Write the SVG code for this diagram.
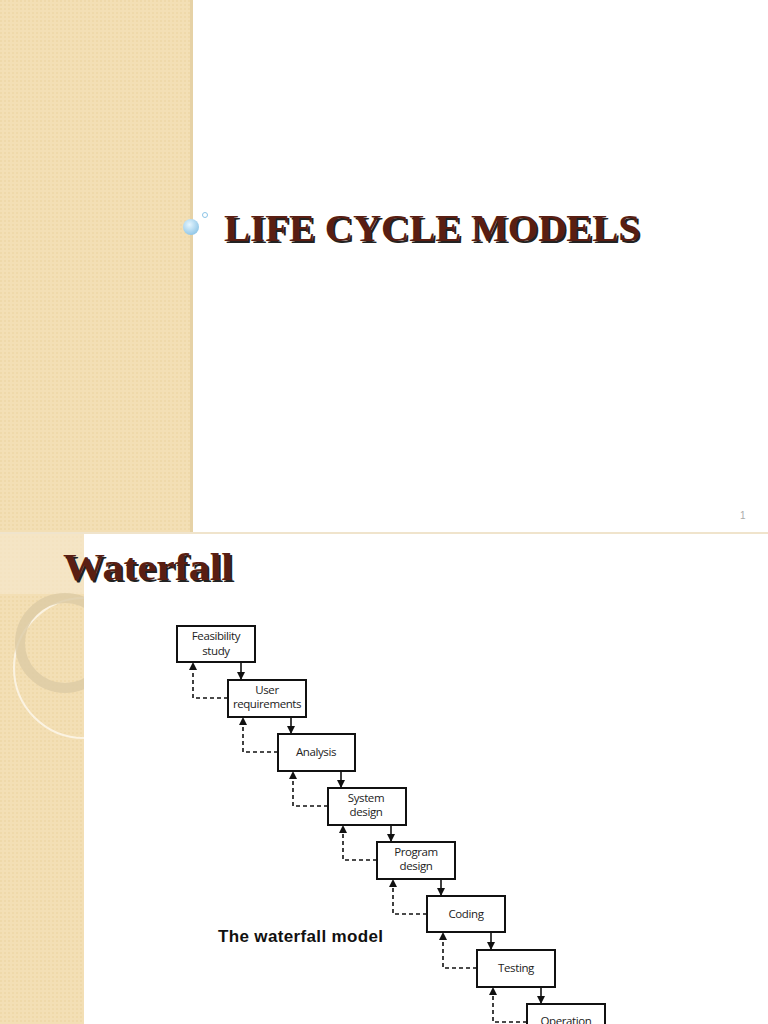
<svg xmlns="http://www.w3.org/2000/svg" width="768" height="1024" viewBox="0 0 768 1024">
<defs>
<pattern id="tex" width="4" height="4" patternUnits="userSpaceOnUse"><rect width="4" height="4" fill="#f3dfb5"/><rect width="2" height="2" fill="#efd9aa"/></pattern>
<marker id="ah" markerWidth="8" markerHeight="8" refX="7" refY="4" orient="auto" markerUnits="userSpaceOnUse"><path d="M0,0 L8,4 L0,8 z" fill="#111"/></marker>
<radialGradient id="bub" cx="0.4" cy="0.35" r="0.7"><stop offset="0" stop-color="#e6f6ff"/><stop offset="1" stop-color="#8cc4e6"/></radialGradient>
</defs>
<style>
.box{fill:#fff;stroke:#111;stroke-width:2}
.bt{font-family:"Open Sans","Liberation Sans",sans-serif;font-size:11.5px;fill:#222;text-anchor:middle;letter-spacing:-0.4px}
.ttl{font-family:"Liberation Serif",serif;font-weight:bold;fill:#5a1e12}
.sh{font-family:"Liberation Serif",serif;font-weight:bold;fill:#222}
.sol{stroke:#111;stroke-width:1.6;fill:none}
.dash{stroke:#111;stroke-width:1.6;fill:none;stroke-dasharray:4,3}
</style>
<rect width="768" height="1024" fill="#fff"/>
<rect x="0" y="0" width="190" height="532" fill="url(#tex)"/>
<rect x="190" y="0" width="3" height="532" fill="#e6d2a6"/>
<circle cx="191" cy="227" r="8" fill="url(#bub)"/>
<circle cx="205" cy="215" r="2.5" fill="none" stroke="#8cc4e6" stroke-width="1"/>
<text class="sh" x="226" y="243" font-size="38" textLength="416" lengthAdjust="spacingAndGlyphs">LIFE CYCLE MODELS</text>
<text class="ttl" x="224" y="241" font-size="38" textLength="416" lengthAdjust="spacingAndGlyphs">LIFE CYCLE MODELS</text>
<text x="740" y="519" font-family="Liberation Sans,sans-serif" font-size="10" fill="#aaa">1</text>
<rect x="0" y="532" width="768" height="2" fill="#f0e4cc"/>
<rect x="0" y="534" width="84" height="490" fill="url(#tex)"/>
<rect x="0" y="534" width="84" height="60" fill="#f7ead0" opacity="0.6"/>
<circle cx="84" cy="668" r="70" fill="none" stroke="#fbf3e2" stroke-width="2"/>
<circle cx="65" cy="643" r="45" fill="none" stroke="#dccba5" stroke-width="10" opacity="0.8"/>
<rect x="84" y="534" width="684" height="490" fill="#fff"/>
<text class="sh" x="65" y="582" font-size="38" textLength="170" lengthAdjust="spacingAndGlyphs">Waterfall</text>
<text class="ttl" x="63" y="580" font-size="38" textLength="170" lengthAdjust="spacingAndGlyphs">Waterfall</text>
<text x="218" y="942" font-family="Liberation Sans,Arial,sans-serif" font-weight="bold" font-size="17" fill="#111" textLength="165">The waterfall model</text>
<g id="connectors">
<path class="sol" d="M241,662 V679" marker-end="url(#ah)"/>
<path class="sol" d="M291,717 V733" marker-end="url(#ah)"/>
<path class="sol" d="M341,771 V787" marker-end="url(#ah)"/>
<path class="sol" d="M391,825 V841" marker-end="url(#ah)"/>
<path class="sol" d="M441,879 V895" marker-end="url(#ah)"/>
<path class="sol" d="M491,932 V949" marker-end="url(#ah)"/>
<path class="sol" d="M541,987 V1003" marker-end="url(#ah)"/>
<path class="dash" d="M228,698 H193 V663" marker-end="url(#ah)"/>
<path class="dash" d="M278,752 H243 V718" marker-end="url(#ah)"/>
<path class="dash" d="M328,806 H293 V772" marker-end="url(#ah)"/>
<path class="dash" d="M377,860 H343 V826" marker-end="url(#ah)"/>
<path class="dash" d="M427,914 H393 V880" marker-end="url(#ah)"/>
<path class="dash" d="M477,968 H443 V933" marker-end="url(#ah)"/>
<path class="dash" d="M527,1022 H493 V988" marker-end="url(#ah)"/>
</g>
<g id="n1"><rect class="box" x="177" y="626" width="78" height="36"/><text class="bt" x="216" y="640">Feasibility</text><text class="bt" x="216" y="655">study</text></g>
<g id="n2"><rect class="box" x="228" y="680" width="78" height="37"/><text class="bt" x="267" y="694">User</text><text class="bt" x="267" y="708">requirements</text></g>
<g id="n3"><rect class="box" x="278" y="734" width="77" height="37"/><text class="bt" x="316" y="756">Analysis</text></g>
<g id="n4"><rect class="box" x="328" y="788" width="78" height="37"/><text class="bt" x="366" y="802">System</text><text class="bt" x="366" y="816">design</text></g>
<g id="n5"><rect class="box" x="377" y="842" width="78" height="37"/><text class="bt" x="416" y="856">Program</text><text class="bt" x="416" y="870">design</text></g>
<g id="n6"><rect class="box" x="427" y="896" width="78" height="36"/><text class="bt" x="466" y="918">Coding</text></g>
<g id="n7"><rect class="box" x="477" y="950" width="78" height="37"/><text class="bt" x="516" y="972">Testing</text></g>
<g id="n8"><rect class="box" x="527" y="1004" width="78" height="37"/><text class="bt" x="566" y="1025">Operation</text></g>
</svg>
